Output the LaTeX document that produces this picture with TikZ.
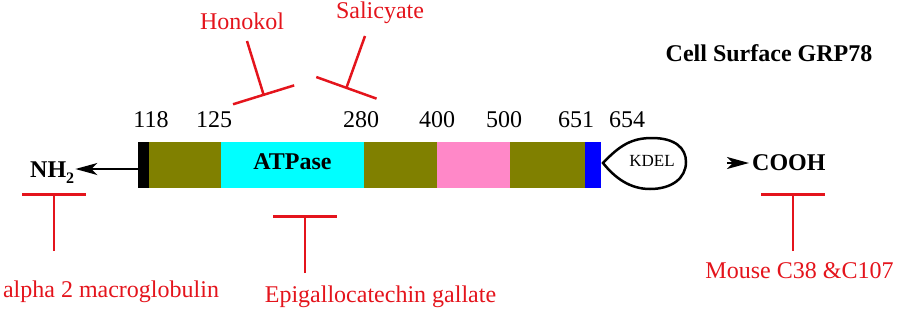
\documentclass[tikz,border=0pt]{standalone}
\usepackage{fontspec}
\setmainfont{Liberation Serif}
\usetikzlibrary{arrows.meta,positioning}
\definecolor{segolive}{RGB}{128,128,0}
\definecolor{segcyan}{RGB}{0,255,255}
\definecolor{segpink}{RGB}{255,136,200}
\definecolor{segblue}{RGB}{0,0,255}
\definecolor{inhibred}{RGB}{228,20,28}

\begin{document}
\begin{tikzpicture}[
    x=1pt, y=-1pt,
    segment/.style={rectangle, inner sep=0pt, outer sep=0pt, minimum height=46pt},
    txt/.style={inner sep=0pt, font=\fontsize{24}{28}\selectfont},
    boldtxt/.style={inner sep=0pt, font=\fontsize{24}{28}\selectfont\bfseries},
    redtxt/.style={txt, text=inhibred},
    inhibit/.style={draw=inhibred, line width=2.5pt, -{_[length=5pt]Bar[width=64pt]}},
    line/.style={draw, line width=2pt, -{Stealth[length=22pt, width=12pt, inset=6pt]}}
]
    \useasboundingbox (0,0) rectangle (898,309);

    % protein domains
    \node [segment, fill=black, minimum width=11pt, anchor=west] (seg118) at (138,165) {};
    \node [segment, fill=segolive, minimum width=72pt, right=0pt of seg118] (seg125) {};
    \node [segment, fill=segcyan, minimum width=143pt, right=0pt of seg125] (seg280) {};
    \node [segment, fill=segolive, minimum width=73pt, right=0pt of seg280] (seg400) {};
    \node [segment, fill=segpink, minimum width=73pt, right=0pt of seg400] (seg500) {};
    \node [segment, fill=segolive, minimum width=75pt, right=0pt of seg500] (seg651) {};
    \node [segment, fill=segblue, minimum width=16pt, right=0pt of seg651] (seg654) {};
    \node [boldtxt, anchor=base] (atpase) at ([yshift=-4pt]seg280.center) {ATPase};

    % KDEL loop
    \draw [line width=2.5pt] (603,163) .. controls (620,145) and (632,138) .. (652,138)
        .. controls (675,138) and (686,148) .. (686,162)
        .. controls (686,178) and (672,189) .. (650,189)
        .. controls (630,189) and (615,178) .. cycle;
    \node [inner sep=0pt, font=\fontsize{17}{20}\selectfont, anchor=base] (kdel) at (652,166) {KDEL};

    % residue numbers
    \node [txt, anchor=base] (num118) at (151,127) {118};
    \node [txt, anchor=base] (num125) at (214,127) {125};
    \node [txt, anchor=base] (num280) at (361,127) {280};
    \node [txt, anchor=base] (num400) at (437,127) {400};
    \node [txt, anchor=base] (num500) at (504,127) {500};
    \node [txt, anchor=base] (num651) at (576,127) {651};
    \node [txt, anchor=base] (num654) at (627,127) {654};

    \node [boldtxt, anchor=base] (title) at (769,61) {Cell Surface GRP78};

    % termini
    \node [boldtxt, anchor=base west] (nh) at (30,177) {NH\raisebox{-6pt}{\fontsize{16}{16}\selectfont 2}};
    \coordinate (nhtail) at ([yshift=-4pt]seg118.west);
    \draw [line] (nhtail) -- ([xshift=1pt]nhtail -| nh.east);
    \node [boldtxt, anchor=base west] (cooh) at (752,170) {COOH};
    \coordinate (coohtail) at (727,163);
    \coordinate (coohtip) at (749,163);
    \draw [line] (coohtail) -- (coohtip);

    % inhibitors
    \node [redtxt, anchor=base] (honokol) at (242,29.5) {Honokol};
    \node [redtxt, anchor=base] (salicyate) at (380,18) {Salicyate};
    \node [redtxt, anchor=base] (alpha) at (111,297) {alpha 2 macroglobulin};
    \node [redtxt, anchor=base] (egcg) at (380.5,302) {Epigallocatechin gallate};
    \node [redtxt, anchor=base] (mouse) at (799.5,278) {Mouse C38 \&C107};

    \coordinate (honokolstem) at (247,41);
    \coordinate (honokolbar) at (264,96);
    \coordinate (salicyatestem) at (365,36);
    \coordinate (salicyatebar) at (346,89);
    \coordinate (alphastem) at (54,251);
    \coordinate (alphabar) at (54,193);
    \coordinate (egcgstem) at (305,273);
    \coordinate (egcgbar) at (305,215);
    \coordinate (mousestem) at (793,251);
    \coordinate (mousebar) at (793,193);

    \draw [inhibit] (honokolstem) -- (honokolbar);
    \draw [inhibit] (salicyatestem) -- (salicyatebar);
    \draw [inhibit] (alphastem) -- (alphabar);
    \draw [inhibit] (egcgstem) -- (egcgbar);
    \draw [inhibit] (mousestem) -- (mousebar);
\end{tikzpicture}
\end{document}
